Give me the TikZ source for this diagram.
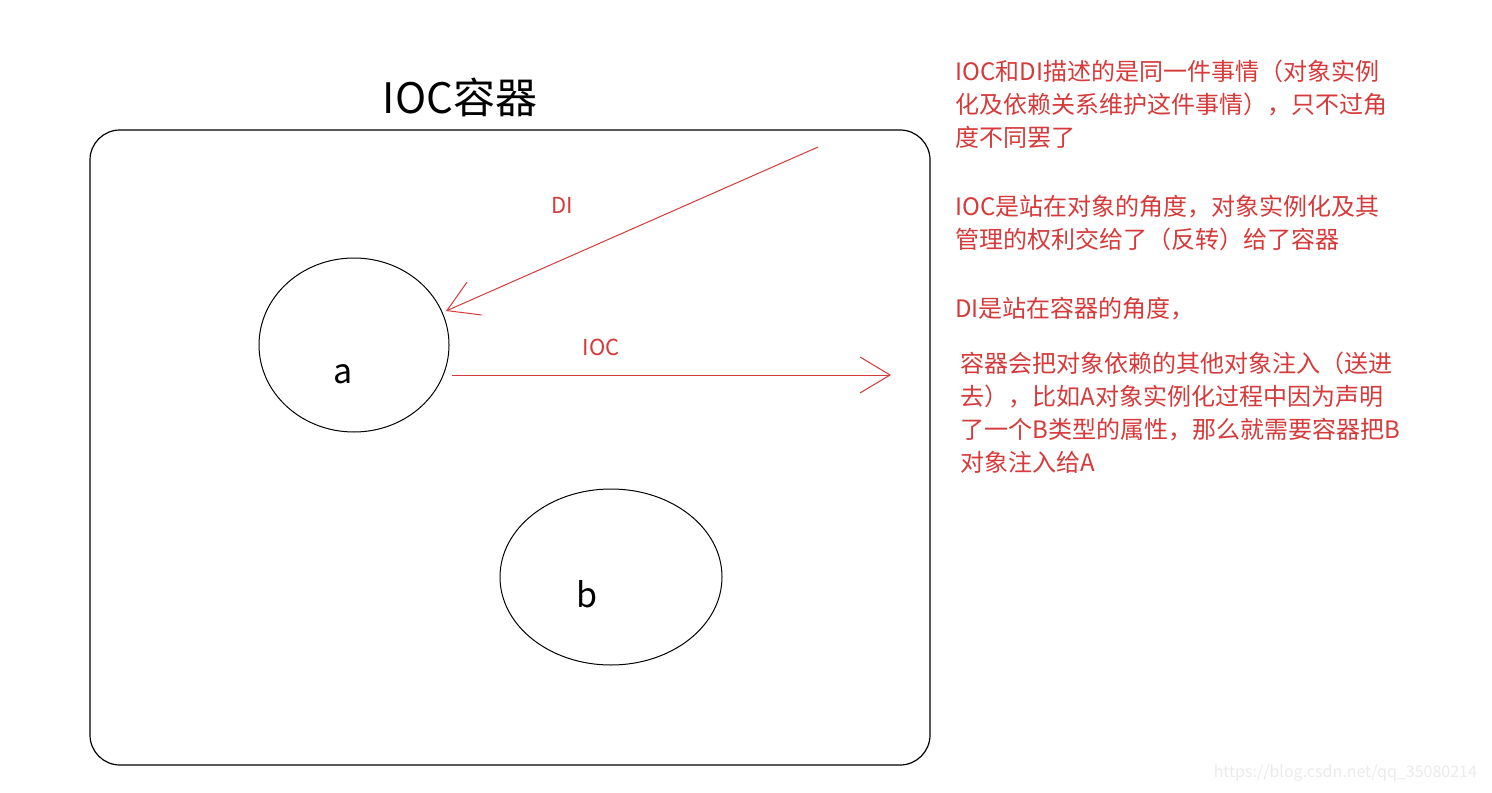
\documentclass[tikz,border=0pt]{standalone}
\usepackage{fontspec}
\setmainfont{Noto Sans CJK SC}
\usetikzlibrary{arrows.meta}
\definecolor{rd}{RGB}{214,58,58}
\begin{document}
\begin{tikzpicture}[x=0.5pt,y=-0.5pt,
  rtext/.style={text=rd,font=\fontsize{12}{16.5}\selectfont,anchor=north west,align=left,inner sep=0pt},
  rline/.style={draw=rd,line width=0.5pt,-{Straight Barb[length=15pt,width=18pt,line width=0.5pt]}}]
\useasboundingbox (0,0) rectangle (1492,792);
\fill[white] (0,0) rectangle (1492,792);
\draw[line width=0.6pt,rounded corners=15pt] (90,130) rectangle (930,765);
\node[font=\fontsize{21}{24}\selectfont] (title) at (460,97) {IOC容器};
\draw[line width=0.5pt] (354,345) ellipse [x radius=95, y radius=87];
\draw[line width=0.5pt] (611,577) ellipse [x radius=111, y radius=88];
\coordinate (ea) at (446,311);
\node[font=\fontsize{17}{20}\selectfont] (a) at (343,374) {a};
\node[font=\fontsize{17}{20}\selectfont] (b) at (587,594) {b};
\coordinate (dis) at (818,147);
\coordinate (ios) at (452,375);
\coordinate (ioe) at (891,375);
\draw[rline] (dis) -- (ea);
\draw[rline] (ios) -- (ioe);
\node[text=rd,font=\fontsize{11}{13}\selectfont] (dil) at (562,205) {DI};
\node[text=rd,font=\fontsize{11}{13}\selectfont] (iol) at (601,347) {IOC};
\node[rtext] (t1) at (955,60) {IOC和DI描述的是同一件事情（对象实例\\化及依赖关系维护这件事情），只不过角\\度不同罢了};
\node[rtext] (t2) at (955,195) {IOC是站在对象的角度，对象实例化及其\\管理的权利交给了（反转）给了容器};
\node[rtext] (t3) at (955,297) {DI是站在容器的角度，};
\node[rtext] (t4) at (960,352) {容器会把对象依赖的其他对象注入（送进\\去），比如A对象实例化过程中因为声明\\了一个B类型的属性，那么就需要容器把B\\对象注入给A};
\node[text=black!8,font=\fontsize{8}{10}\selectfont,anchor=east] (wm) at (1484,773) {https://blog.csdn.net/qq\_35080214};
\end{tikzpicture}
\end{document}
